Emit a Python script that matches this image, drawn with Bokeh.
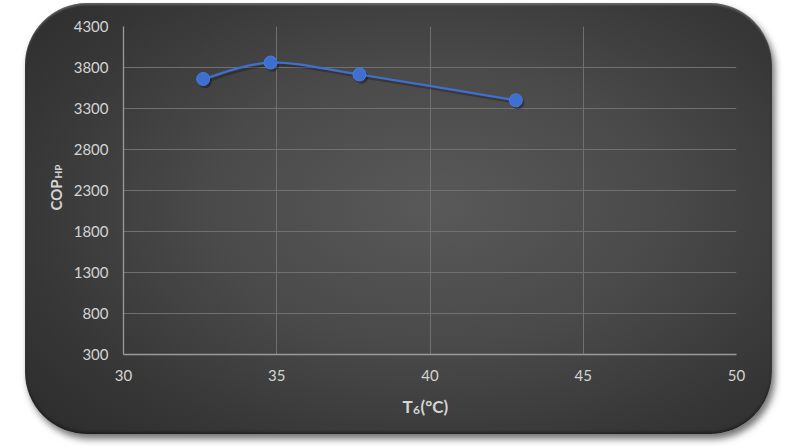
import math
from bokeh.plotting import figure
from bokeh.models import Range1d, Label, FixedTicker
from bokeh.embed import file_html
from bokeh.resources import INLINE

# ---- data ----
t6 = [32.6, 34.8, 37.7, 42.8]
cop_hp = [3660, 3860, 3715, 3400]
x_ticks = [30, 35, 40, 45, 50]
y_ticks = [300, 800, 1300, 1800, 2300, 2800, 3300, 3800, 4300]

FONT = "Lato"
TXT = "#d4d4d4"
BLUE = "#3e70d2"

# frame geometry (pixels inside figure)
FL, FR, FT, FB = 98, 36, 23, 80
FW, FH = 613, 328
X0, X1, Y0, Y1 = 30, 50, 300, 4300

p = figure(
    output_backend="svg", toolbar_location=None,
    frame_width=FW, frame_height=FH,
    min_border_left=FL, min_border_right=FR, min_border_top=FT, min_border_bottom=FB,
    x_range=Range1d(X0, X1), y_range=Range1d(Y0, Y1),
    background_fill_color=None, border_fill_color=None, outline_line_color=None,
)
p.margin = (3, 0, 0, 25)
p.styles = {
    "background": "radial-gradient(ellipse 75% 80% at 55% 47%, #595959 0%, #4a4a4a 40%, #363636 75%, #2b2b2b 100%)",
    "border-radius": "62px",
    "box-shadow": "3px 5px 7px rgba(0,0,0,0.55), inset 0 2px 2px rgba(255,255,255,0.22), inset 0 -2px 3px rgba(0,0,0,0.4)",
}

for ax in (p.xaxis[0], p.yaxis[0]):
    ax.major_tick_line_color = None
    ax.minor_tick_line_color = None
    ax.major_tick_in = 0
    ax.major_tick_out = 0
    ax.minor_tick_in = 0
    ax.minor_tick_out = 0
    ax.axis_line_color = "#9a9a9a"
    ax.axis_line_width = 1.3
    ax.major_label_text_font = FONT
    ax.major_label_text_font_size = "15px"
    ax.major_label_text_color = TXT

p.xaxis.ticker = FixedTicker(ticks=x_ticks)
p.yaxis.ticker = FixedTicker(ticks=y_ticks)
p.xaxis.major_label_standoff = 15
p.yaxis.major_label_standoff = 15

p.grid.grid_line_color = "#707070"
p.grid.grid_line_width = 1
p.xgrid.ticker = FixedTicker(ticks=x_ticks)
p.ygrid.ticker = FixedTicker(ticks=y_ticks)

# smoothed line (Catmull-Rom -> cubic Bezier, like spreadsheet "smoothed line")
n = len(t6)
x0s, y0s, x1s, y1s, c0x, c0y, c1x, c1y = [], [], [], [], [], [], [], []
for i in range(n - 1):
    pm = (t6[max(i - 1, 0)], cop_hp[max(i - 1, 0)])
    pa = (t6[i], cop_hp[i])
    pb = (t6[i + 1], cop_hp[i + 1])
    pn = (t6[min(i + 2, n - 1)], cop_hp[min(i + 2, n - 1)])
    x0s.append(pa[0]); y0s.append(pa[1]); x1s.append(pb[0]); y1s.append(pb[1])
    c0x.append(pa[0] + (pb[0] - pm[0]) / 6); c0y.append(pa[1] + (pb[1] - pm[1]) / 6)
    c1x.append(pb[0] - (pn[0] - pa[0]) / 6); c1y.append(pb[1] - (pn[1] - pa[1]) / 6)

# soft shadow (offset by ~2px right / 2px down)
dx = 2 * (X1 - X0) / FW
dy = -2.5 * (Y1 - Y0) / FH
p.bezier(x0=[v + dx for v in x0s], y0=[v + dy for v in y0s], x1=[v + dx for v in x1s], y1=[v + dy for v in y1s],
         cx0=[v + dx for v in c0x], cy0=[v + dy for v in c0y], cx1=[v + dx for v in c1x], cy1=[v + dy for v in c1y],
         line_color="black", line_alpha=0.25, line_width=2.5)
p.scatter([v + dx for v in t6], [v + dy for v in cop_hp], size=13.5, fill_color="black", fill_alpha=0.3, line_color=None)

p.bezier(x0=x0s, y0=y0s, x1=x1s, y1=y1s, cx0=c0x, cy0=c0y, cx1=c1x, cy1=c1y,
         line_color=BLUE, line_width=2.2)
p.scatter(t6, cop_hp, size=13, fill_color=BLUE, line_color="#4a7ae0", line_width=1)

def lab(side, cx, cy, text, size, angle=0.0):
    # canvas units: absolute pixels inside the figure, y downwards
    p.add_layout(Label(x=cx, y=cy, x_units="canvas", y_units="canvas", text=text,
                       angle=angle, text_font=FONT, text_font_style="bold", text_font_size=size,
                       text_color=TXT, text_align="left", text_baseline="alphabetic"), side)

# x axis title  T6(°C)
lab("below", 377, 403, "T", "17px")
lab("right", 387.5, 406, "6", "12px")
lab("above", 395, 403, "(°C)", "17px")

# y axis title  COP_HP (rotated)
lab("left", 30, 207, "COP", "15px", math.pi / 2)
lab("left", 32, 175, "HP", "10px", math.pi / 2)

open("out.html", "w").write(file_html(p, INLINE))
